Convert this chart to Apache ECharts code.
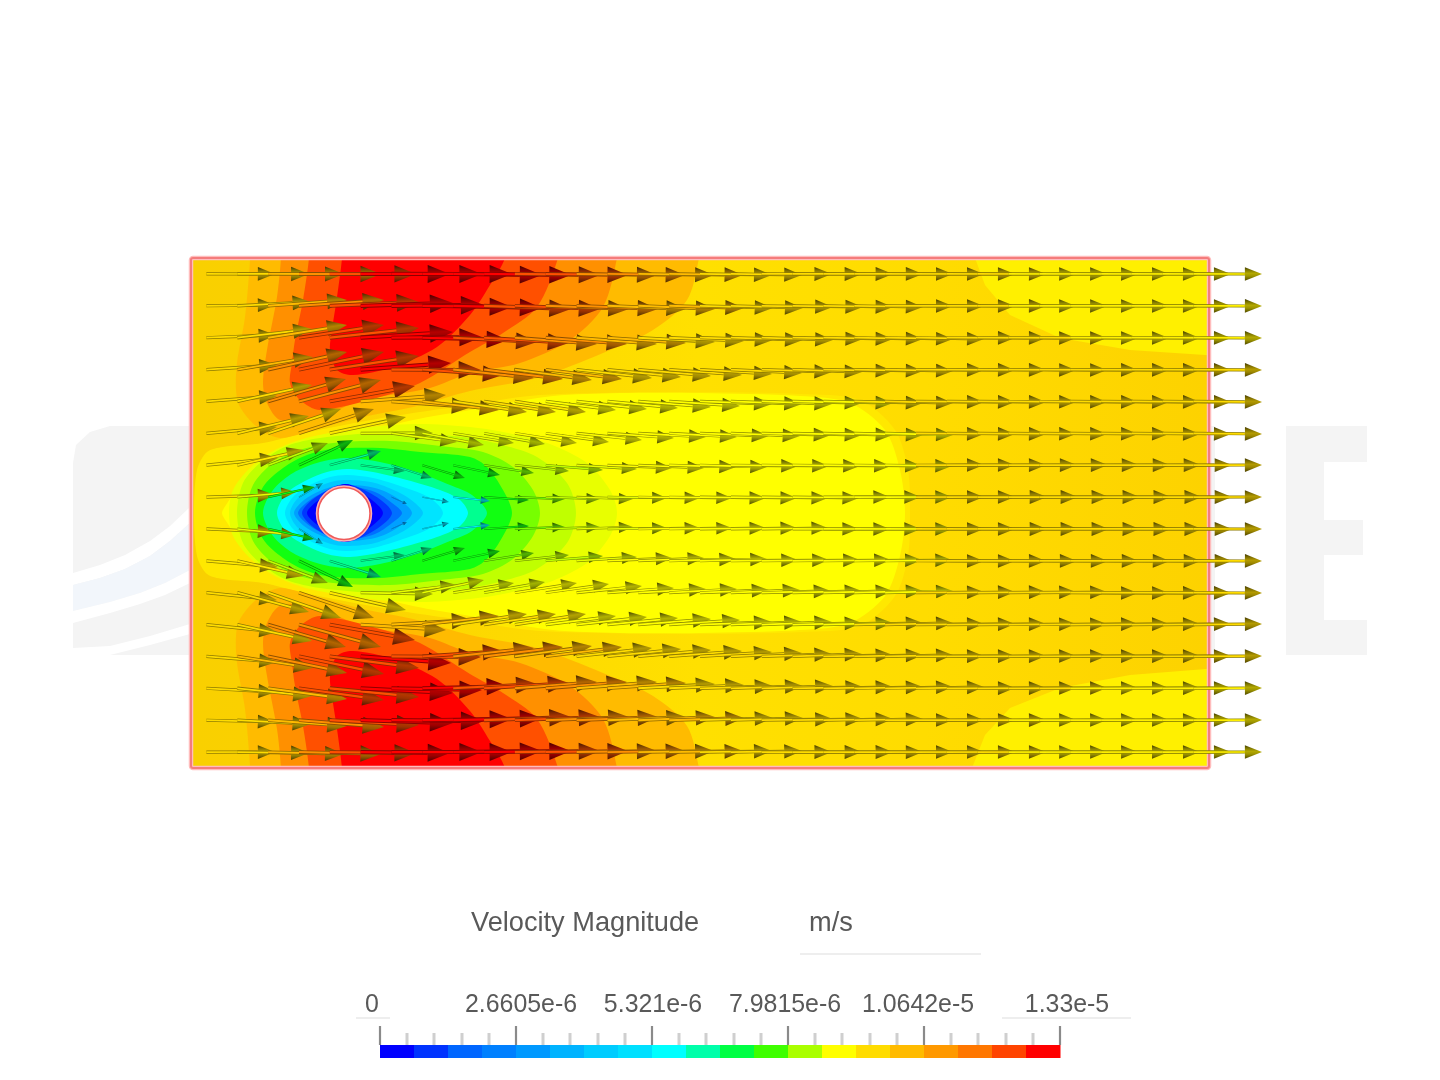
<!DOCTYPE html>
<html><head><meta charset="utf-8">
<style>html,body{margin:0;padding:0;background:#fff}#c{width:1440px;height:1080px}</style>
<script src="https://cdn.jsdelivr.net/npm/echarts@6/dist/echarts.min.js"></script>
</head><body><div id="c"></div>
<script>
// ---------- legend ----------
const legendTitle = 'Velocity Magnitude';
const legendUnit = 'm/s';
const legendLabels = ['0','2.6605e-6','5.321e-6','7.9815e-6','1.0642e-5','1.33e-5'];
const legendLabelCenters = [372,521,653,785,918,1067];
const legendMax = 1.33025e-5;
const legendStep = 2.6605e-6;
const legendMinorPerMajor = 5;
const bandColors = ['#0000ff','#0033ff','#0066ff','#0080ff','#0099ff','#00b3ff','#00ccff','#00e0ff','#00ffff','#00ffaa','#00ff44','#3fff00','#aaff00','#ffff00','#ffdc00','#ffbb00','#ff9900','#ff7700','#ff4400','#ff0000'];

// ---------- arrow field: cell-centre seeds and read-off arrow tips ----------
const seedX = [206.4,237.3,268.1,299,329.8,360.7,391.5,422.4,453.2,484.1,514.9,545.8,576.6,607.5,638.3,669.2,700,730.9,761.7,792.6,823.4,854.3,885.1,916,946.8,977.7,1008.5,1039.4,1070.2,1101.1,1131.9,1162.8,1193.6];
const seedY = [273.9,305.8,337.7,369.6,401.4,433.3,465.2,497.1,528.9,560.8,592.7,624.6,656.4,688.3,720.2,752.1];
const tipXa = [275,309,344,381,416,450,482,512,542,571,600,628,657,685,714,743,772,802,832,862,893,923,953,984,1015,1046,1076,1107,1138,1169,1200,1231,1262];
const tipXb = [275,311,347,384,419,453,484,512,542,571,600,629,658,686,715,744,773,803,833,863,893,923,953,984,1015,1046,1076,1107,1138,1169,1200,1231,1262];
const tipXc = [276,312,347,384,419,453,482,508,537,569,597,627,657,686,715,744,773,803,833,863,893,923,953,984,1015,1046,1076,1107,1138,1169,1200,1231,1262];
const tipXd = [277,313,347,384,419,451,481,503,534,563,592,622,652,681,711,742,772,802,832,862,893,923,953,984,1015,1046,1076,1107,1138,1169,1200,1231,1262];
const tipXe = [277,312,346,381,415,446,472,499,527,556,586,616,647,678,711,740,772,802,832,862,893,923,953,984,1015,1046,1076,1107,1138,1169,1200,1231,1262];
const tipXf = [277,309,341,374,406,433,457,484,514,545,577,609,642,674,706,737,769,800,831,862,893,923,953,984,1015,1046,1076,1107,1138,1169,1200,1231,1262];
const tipXg = [278,304,328,353,381,405,432,465,500,534,569,603,637,672,704,736,767,798,829,860,891,922,952,984,1015,1046,1077,1108,1139,1170,1201,1232,1262];
const tipXh = [275,296,315,323,null,null,407,449,490,529,565,600,633,667,700,732,766,797,828,859,890,921,952,984,1015,1047,1078,1109,1140,1171,1202,1232,1262];
const tipXByRow = [tipXa,tipXb,tipXc,tipXd,tipXe,tipXf,tipXg,tipXh,tipXh,tipXg,tipXf,tipXe,tipXd,tipXc,tipXb,tipXa];
const tipY01 = [274,274,274,274,274,274,274,274,275,275,275,275,275,275,275,275,275,275,274,274,274,274,274,274,274,274,274,274,274,274,274,274,274];
const tipY02 = [305,302,300,300,302,303,305,307,308,309,309,309,309,309,309,308,308,308,307,307,307,307,306,306,306,306,306,306,306,306,306,306,306];
const tipY03 = [335,329,325,325,328,332,337,340,342,343,344,344,344,343,342,341,340,340,340,339,339,339,339,339,338,338,338,338,338,338,338,338,338];
const tipY04 = [365,357,352,352,356,363,370,375,378,379,380,379,378,377,376,375,374,373,372,372,371,371,371,370,370,370,370,370,370,370,370,370,370];
const tipY05 = [396,385,379,380,386,395,407,410,412,412,412,410,409,408,407,406,404,404,404,403,403,403,403,402,402,402,402,402,402,402,402,402,402];
const tipY06 = [427,416,409,409,417,433,442,445,443,444,443,442,440,438,437,437,436,436,435,435,435,435,435,434,434,434,434,434,434,434,434,434,434];
const tipY07 = [458,450,443,440,451,471,478,478,475,473,471,470,469,468,468,467,467,466,466,466,466,466,466,465,465,465,465,465,465,465,465,465,465];
const tipY08 = [495,492,487,483,null,null,504,502,501,500,499,499,499,498,498,498,498,498,498,498,497,497,497,497,497,497,497,497,497,497,497,497,497];
const tipY09 = [532,535,539,544,null,null,522,523,525,526,527,527,527,528,528,528,528,528,528,529,529,529,529,529,529,529,529,529,529,529,529,529,529];
const tipY10 = [567,576,583,587,577,555,548,548,551,553,555,556,557,558,558,559,559,560,560,560,560,560,560,561,561,561,561,561,561,561,561,561,561];
const tipY11 = [600,612,618,618,610,594,585,580,583,582,583,584,586,588,589,589,590,590,591,591,591,591,591,592,592,592,592,592,593,593,593,593,593];
const tipY12 = [632,641,647,647,640,630,620,616,614,614,614,616,617,618,619,620,622,622,622,623,623,623,623,624,624,624,624,624,624,624,624,624,624];
const tipY13 = [662,668,673,674,668,663,657,651,648,647,646,647,648,649,650,651,652,653,654,654,655,655,655,656,656,656,656,656,656,656,656,656,656];
const tipY14 = [692,696,699,700,697,693,690,686,684,683,682,682,682,683,684,685,686,686,686,687,687,687,687,687,688,688,688,688,688,688,688,688,688];
const tipY15 = [722,724,726,727,725,723,721,719,718,717,717,717,717,717,717,718,718,718,719,719,719,719,720,720,720,720,720,720,720,720,720,720,720];
const tipY16 = [752,753,754,754,753,753,752,752,751,751,751,751,751,751,751,751,751,751,752,752,752,752,752,752,752,752,752,752,752,752,752,752,752];
const tipYByRow = [tipY01,tipY02,tipY03,tipY04,tipY05,tipY06,tipY07,tipY08,tipY09,tipY10,tipY11,tipY12,tipY13,tipY14,tipY15,tipY16];

// ---------- contour outlines (upper half; channel mirrors about y=513) ----------
const midline = 513;
const lobeTop = [[975,240],[975,258],[985,285],[1010,315],[1060,338],[1130,350],[1220,356],[1220,240]];
const lobeBottom = [[972,785],[972,768],[985,735],[1010,708],[1060,688],[1130,675],[1220,668],[1220,785]];
const jetGold = [[250,240],[250,260],[245,317],[237,363],[236,390],[240,407],[257,427],[280,438],[313,430],[363,417],[413,407],[470,391],[537,378],[603,353],[653,330],[687,300],[699,258],[700,240]];
const jetOrange = [[281,240],[281,258],[277,297],[267,350],[263,383],[267,403],[280,420],[313,420],[360,401],[430,388],[470,373],[520,363],[570,340],[603,307],[617,258],[617,240]];
const jetDeep = [[309,240],[309,258],[303,300],[295,340],[292,363],[290,383],[300,400],[320,410],[380,397],[420,383],[470,352],[503,333],[537,307],[558,258],[558,240]];
const jetRed = [[342,240],[342,258],[337,297],[332,330],[330,350],[337,370],[353,375],[393,367],[437,347],[470,315],[490,285],[505,258],[505,240]];
const wakeAmber = [[194,513],[197,470],[207,452],[223,447],[263,443],[300,434],[360,422],[420,412],[470,405],[520,397],[560,394],[700,392],[800,394],[860,400],[895,430],[908,470],[910,513]];
const wakeYellow = [[222,513],[226,505],[237,490],[263,470],[290,457],[320,447],[367,432],[413,420],[470,410],[503,404],[553,396],[620,393],[700,393],[800,396],[850,403],[885,430],[900,470],[905,513]];
const wakeLime1 = [[229,513],[233,490],[250,468],[275,450],[310,437],[370,427],[420,424],[470,427],[503,432],[547,443],[587,463],[610,490],[617,513]];
const wakeLime2 = [[237,513],[243,483],[260,463],[287,446],[320,438],[380,433],[440,435],[470,438],[503,445],[537,457],[567,483],[576,513]];
const wakeLime3 = [[247,513],[253,485],[273,463],[300,450],[333,443],[390,441],[440,446],[483,452],[513,467],[533,490],[540,513]];
const wakeGreen = [[255,513],[263,487],[283,468],[307,455],[333,449],[380,448],[420,452],[470,457],[487,467],[503,490],[512,513]];
const wakeMint = [[263,513],[273,490],[293,473],[320,462],[347,458],[380,462],[417,472],[450,485],[472,495],[487,513]];
const wakeCyan = [[277,513],[287,493],[307,480],[327,472],[347,469],[373,472],[407,480],[440,490],[460,500],[468,513]];
const wakeSky1 = [[285,513],[293,497],[310,485],[330,477],[347,475],[373,478],[403,487],[430,498],[443,513]];
const wakeSky2 = [[290,513],[298,498],[315,488],[335,481],[350,480],[375,483],[400,493],[415,503],[423,513]];
const wakeSky3 = [[294,513],[304,500],[320,491],[340,485],[375,488],[397,498],[412,513]];
const wakeBlue1 = [[298,513],[310,500],[325,492],[345,486],[375,492],[392,503],[402,513]];
const wakeBlue2 = [[302,513],[316,497],[345,484],[375,496],[392,513]];
const wakeBlue3 = [[307,513],[320,499],[345,484],[368,497],[383,513]];
const cylinder = [344,513.5,26];
const domainX = [191,1209], domainY = [258,768];

// ---------- faint watermark outlines ----------
const wmPanel = [[73,655],[73,463],[76,445],[90,432],[110,426],[190,426],[190,655]];
const wmSwoosh1 = [[73,573],[100,565],[125,555],[150,541],[170,526],[190,507],[190,523],[170,541],[150,556],[125,569],[100,578],[73,585]];
const wmBand = [[73,585],[100,578],[125,569],[150,556],[170,541],[190,523],[190,570],[165,583],[140,593],[110,602],[73,611]];
const wmSwoosh2 = [[73,611],[110,602],[140,593],[165,583],[190,570],[190,583],[165,595],[140,604],[110,613],[73,623]];
const wmSwoosh3 = [[73,648],[110,646],[150,636],[190,624],[190,634],[150,645],[110,655],[73,655]];
const wmE = [[1286,426],[1367,426],[1367,462],[1324,462],[1324,520],[1363,520],[1363,555],[1324,555],[1324,620],[1367,620],[1367,655],[1286,655]];
const wmEdge = [[1209,426],[1215,426],[1215,655],[1209,655]];

// ---------- build ----------
const lens = pts => pts.concat(pts.slice(1,-1).reverse().map(p=>[p[0],2*midline-p[1]]));
const flip = pts => pts.map(p=>[p[0],2*midline-p[1]]);
const base = [[180,250],[1220,250],[1220,780],[180,780]];
const fieldLayers = [
 {pts:base,fill:'base',tone:'#ffdc00'},
 {pts:lobeTop,fill:'#fff000'},{pts:lobeBottom,fill:'#fff000'},
 {pts:lens(wakeAmber),fill:'#ffe800',s:.3},
 {pts:jetGold,fill:'#ffbb00',s:.3},{pts:flip(jetGold),fill:'#ffbb00',s:.3},
 {pts:jetOrange,fill:'#ff9000',s:.3},{pts:flip(jetOrange),fill:'#ff9000',s:.3},
 {pts:jetDeep,fill:'#ff5000',s:.3},{pts:flip(jetDeep),fill:'#ff5000',s:.3},
 {pts:jetRed,fill:'#ff0000',s:.3},{pts:flip(jetRed),fill:'#ff0000',s:.3},
 {pts:lens(wakeYellow),fill:'#ffff00',s:.3},
 {pts:lens(wakeLime1),fill:'#e8ff00',s:.3},
 {pts:lens(wakeLime2),fill:'#c0ff00',s:.3},
 {pts:lens(wakeLime3),fill:'#77ff00',s:.3},
 {pts:lens(wakeGreen),fill:'#11ff11',s:.3},
 {pts:lens(wakeMint),fill:'#00ff90',s:.3},
 {pts:lens(wakeCyan),fill:'#00ffff',s:.3},
 {pts:lens(wakeSky1),fill:'#00e4ff',s:.3},
 {pts:lens(wakeSky2),fill:'#00c8ff',s:.3},
 {pts:lens(wakeSky3),fill:'#00a0ff',s:.3},
 {pts:lens(wakeBlue1),fill:'#0070ff',s:.3},
 {pts:lens(wakeBlue2),fill:'#0038ff',s:.3},
 {pts:lens(wakeBlue3),fill:'#0000ff',s:.3}
];
const wmLayers = [
 {pts:wmPanel,fill:'#f4f4f4'},{pts:wmSwoosh1,fill:'#ffffff'},{pts:wmBand,fill:'#f2f6fb'},
 {pts:wmSwoosh2,fill:'#ffffff'},{pts:wmSwoosh3,fill:'#ffffff'},{pts:wmE,fill:'#f4f4f4'},{pts:wmEdge,fill:'#f4f4f4'}
];
function inside(pts,x,y){
  let c=false;
  for(let i=0,j=pts.length-1;i<pts.length;j=i++){
    const a=pts[i],b=pts[j];
    if((a[1]>y)!==(b[1]>y)&&x<(b[0]-a[0])*(y-a[1])/(b[1]-a[1])+a[0]) c=!c;
  }
  return c;
}
function fieldTone(x,y){
  for(let i=fieldLayers.length-1;i>=0;i--){
    if(inside(fieldLayers[i].pts,x,y)) return fieldLayers[i].tone||fieldLayers[i].fill;
  }
  return '#ffdc00';
}
const arrowData = [], arrowTones = [];
seedY.forEach((y,r)=>seedX.forEach((x,k)=>{
  const tx=tipXByRow[r][k], ty=tipYByRow[r][k];
  if(tx!=null&&ty!=null){ arrowData.push([x,y,tx,ty]); arrowTones.push(fieldTone(x,y)); }
}));
const tickValues=[];
for(let i=0;i<=5*legendMinorPerMajor;i++) tickValues.push([i*legendStep/legendMinorPerMajor, i%legendMinorPerMajor===0?1:0]);
function rgb(hex){return [1,3,5].map(i=>parseInt(hex.substr(i,2),16));}
function shade(c,f){return 'rgb('+c.map(v=>Math.round(v*f)).join(',')+')';}
function polyItem(layers){
  return function(params,api){
    const L=layers[params.dataIndex];
    const pts=L.pts.map(p=>api.coord(p));
    let fill=L.fill;
    if(fill==='base'){
      const a=api.coord([domainX[0],domainY[0]]),b=api.coord([domainX[1],domainY[0]]);
      fill=new echarts.graphic.LinearGradient(a[0],0,b[0],0,[{offset:0,color:'#f9d000'},{offset:.05,color:'#fad000'},{offset:.5,color:'#ffe000'},{offset:.72,color:'#ffdc00'},{offset:1,color:'#fdd200'}],true);
    }
    return {type:'polygon',shape:{points:pts,smooth:L.s||0},style:{fill:fill,stroke:null},silent:true};
  };
}
function arrowItem(params,api){
  const a=api.coord([api.value(0),api.value(1)]), b=api.coord([api.value(2),api.value(3)]);
  const dx=b[0]-a[0],dy=b[1]-a[1],len=Math.hypot(dx,dy),ux=dx/len,uy=dy/len,nx=-uy,ny=ux;
  const c=rgb(arrowTones[params.dataIndex]);
  const hl=len*.25, hw=len*.1, w=Math.max(.6,len*.045);
  const bx=b[0]-ux*hl,by=b[1]-uy*hl;
  const grad=new echarts.graphic.LinearGradient(bx+nx*hw,by+ny*hw,bx-nx*hw,by-ny*hw,[
    {offset:0,color:shade(c,.3)},{offset:.35,color:shade(c,.62)},{offset:.55,color:shade(c,.7)},{offset:.8,color:shade(c,.48)},{offset:1,color:shade(c,.25)}],true);
  return {type:'group',silent:true,children:[
    {type:'line',shape:{x1:a[0],y1:a[1],x2:bx,y2:by},style:{stroke:shade(c,.55),lineWidth:w,lineCap:'butt'}},
    {type:'line',shape:{x1:a[0],y1:a[1],x2:bx,y2:by},style:{stroke:shade(c,1),lineWidth:w*.55,lineCap:'butt'}},
    {type:'polygon',shape:{points:[b,[bx+nx*hw,by+ny*hw],[bx-nx*hw,by-ny*hw]]},style:{fill:grad}}
  ]};
}
const labelGraphics = legendLabels.map((t,i)=>({type:'text',x:legendLabelCenters[i],y:1005,silent:true,
  style:{text:t,fill:'#595959',font:'24.9px "Liberation Sans"',textAlign:'center',textVerticalAlign:'middle'}}));
const ruleLine=(x1,x2,y)=>({type:'line',silent:true,shape:{x1,y1:y,x2,y2:y},style:{stroke:'#e8e8e8',lineWidth:1.5}});

const chart=echarts.init(document.getElementById('c'),null,{renderer:'canvas'});
chart.setOption({
  animation:false,backgroundColor:'#ffffff',
  grid:[{left:domainX[0],top:domainY[0],width:domainX[1]-domainX[0],height:domainY[1]-domainY[0],show:false},
        {left:380,top:1045,width:680,height:13,show:false}],
  xAxis:[{type:'value',gridIndex:0,min:domainX[0],max:domainX[1],show:false},
         {type:'value',gridIndex:1,min:0,max:legendMax,interval:legendStep,show:false}],
  yAxis:[{type:'value',gridIndex:0,min:domainY[0],max:domainY[1],inverse:true,show:false},
         {type:'value',gridIndex:1,min:0,max:1,show:false}],
  graphic:[
    {type:'text',x:471,y:924,silent:true,style:{text:legendTitle,fill:'#595959',font:'27.2px "Liberation Sans"',textVerticalAlign:'middle'}},
    {type:'text',x:809,y:924,silent:true,style:{text:legendUnit,fill:'#595959',font:'27.2px "Liberation Sans"',textVerticalAlign:'middle'}},
    ruleLine(800,981,954),ruleLine(356,390,1018),ruleLine(1002,1131,1018)
  ].concat(labelGraphics),
  series:[
    {type:'custom',name:'watermark',coordinateSystem:'cartesian2d',xAxisIndex:0,yAxisIndex:0,clip:false,z:1,silent:true,
      data:wmLayers.map((_,i)=>[i]),renderItem:polyItem(wmLayers)},
    {type:'custom',name:'Velocity Magnitude field',coordinateSystem:'cartesian2d',xAxisIndex:0,yAxisIndex:0,clip:true,z:2,silent:true,
      data:fieldLayers.map((_,i)=>[i]),renderItem:polyItem(fieldLayers)},
    {type:'custom',name:'walls',coordinateSystem:'cartesian2d',xAxisIndex:0,yAxisIndex:0,clip:false,z:3,silent:true,
      data:[[cylinder[0],cylinder[1],cylinder[2]]],
      renderItem:function(params,api){
        const c=api.coord([api.value(0),api.value(1)]),r=api.size([api.value(2),0])[0];
        const a=api.coord([domainX[0],domainY[0]]),b=api.coord([domainX[1],domainY[1]]);
        const box={x:a[0],y:a[1],width:b[0]-a[0],height:b[1]-a[1],r:2};
        return {type:'group',silent:true,children:[
          {type:'rect',shape:box,style:{fill:null,stroke:'#ffbcbc',lineWidth:4.5}},
          {type:'rect',shape:box,style:{fill:null,stroke:'#f47c7c',lineWidth:2}},
          {type:'circle',shape:{cx:c[0],cy:c[1],r:r+.5},style:{fill:'#ffffff',stroke:'#ffb0b0',lineWidth:3.5}},
          {type:'circle',shape:{cx:c[0],cy:c[1],r:r},style:{fill:'#ffffff',stroke:'#ee5a5a',lineWidth:1.5}}
        ]};
      }},
    {type:'custom',name:'Velocity vectors',coordinateSystem:'cartesian2d',xAxisIndex:0,yAxisIndex:0,clip:false,z:4,silent:true,
      progressive:0,encode:{x:[0,2],y:[1,3]},data:arrowData,renderItem:arrowItem},
    {type:'custom',name:'colour bar',coordinateSystem:'cartesian2d',xAxisIndex:1,yAxisIndex:1,clip:false,z:2,silent:true,
      data:bandColors.map((_,i)=>[i*legendMax/bandColors.length,(i+1)*legendMax/bandColors.length]),
      renderItem:function(params,api){
        const a=api.coord([api.value(0),1]),b=api.coord([api.value(1),0]);
        return {type:'rect',shape:{x:a[0],y:a[1],width:b[0]-a[0]+.5,height:b[1]-a[1]},style:{fill:bandColors[params.dataIndex]}};
      }},
    {type:'custom',name:'colour bar ticks',coordinateSystem:'cartesian2d',xAxisIndex:1,yAxisIndex:1,clip:false,z:2,silent:true,
      data:tickValues,
      renderItem:function(params,api){
        const p=api.coord([api.value(0),1]),major=api.value(1)===1;
        const x=Math.round(p[0]);
        return {type:'line',shape:{x1:x,y1:p[1]-(major?19:12),x2:x,y2:p[1]},
          style:{stroke:major?'#8a8a8a':'#cfcfcf',lineWidth:major?2.2:3}};
      }}
  ]
});
</script></body></html>
